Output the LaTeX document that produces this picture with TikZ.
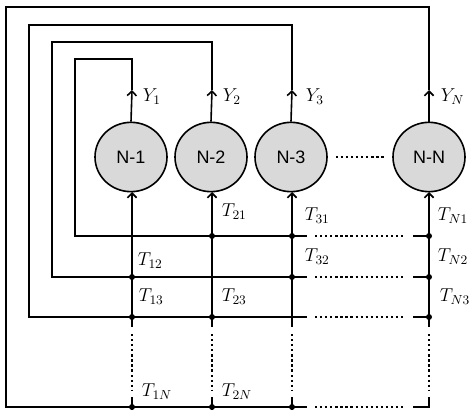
\RequirePackage{fix-cm}
\documentclass[tikz,border=0pt]{standalone}
\usepackage{fontspec}
\newfontfamily\arialfont{Liberation Sans}
\usetikzlibrary{arrows,shapes.geometric,positioning}
\usepgflibrary{arrows.meta}
\tikzset{
  neuron/.style={ellipse,draw,line width=1.2pt,fill=black!15,minimum width=54pt,minimum height=52pt,inner sep=0pt,font=\arialfont\fontsize{13.5}{15}\selectfont},
  junc/.style={circle,fill=black,inner sep=0pt,minimum size=4.5pt},
  dotline/.style={line width=1.7pt,dash pattern=on 1.7pt off 2.1pt},
  lab/.style={anchor=west,inner sep=0pt,font=\fontsize{14}{16}\selectfont},
  tip/.style={-{Straight Barb[length=3.5pt,width=7pt]}}
}
\begin{document}
\begin{tikzpicture}[x=0.75pt,y=-0.75pt,line width=1.2pt]
        \useasboundingbox (0,0) rectangle (474,413);
        %神经元
        \node[neuron] (n1) at (131,157) {N-1};
        \node[neuron] (n2) at (211,157) {N-2};
        \node[neuron] (n3) at (291,157) {N-3};
        \node[neuron] (nN) at (429,157) {N-N};
        \draw [dotline] ([xshift=6pt]n3.east) -- ([xshift=-6pt]nN.west);
        %输出 Y
        \coordinate (a1) at (132,90); \coordinate (a2) at (212,90);
        \coordinate (a3) at (292,90); \coordinate (aN) at (429,90);
        \draw [tip] (n1.north) -- (a1);
        \draw [tip] (n2.north) -- (a2);
        \draw [tip] (n3.north) -- (a3);
        \draw [tip] (nN.north) -- (aN);
        \node[lab] (y1) at (142,97) {$Y_1$};
        \node[lab] (y2) at (222,97) {$Y_2$};
        \node[lab] (y3) at (305,97) {$Y_3$};
        \node[lab] (yN) at (440,97) {$Y_N$};
        %反馈回路
        \draw (a1) |- (75,59) |- (307,236);
        \draw (a2) |- (52,42) |- (307,277);
        \draw (a3) |- (29,25) |- (307,317);
        \draw (aN) |- (6,7) |- (307,407);
        \draw [dotline] (315,236) -- (405,236);
        \draw [dotline] (315,277) -- (405,277);
        \draw [dotline] (315,317) -- (405,317);
        \draw [dotline] (315,407) -- (405,407);
        \draw (413,236) -- (429,236) (413,277) -- (429,277) (413,317) -- (429,317);
        \draw (413,407) -| (429,397);
        %输入 T
        \draw [tip] (132,327) -- (132,192);
        \draw [tip] (212,327) -- (212,192);
        \draw [tip] (292,327) -- (292,192);
        \draw [tip] (429,327) -- (429,192);
        \foreach \x in {132,212,292,429} {
            \draw [dotline] (\x,334) -- (\x,390);
        }
        \foreach \x in {132,212,292} {
            \draw (\x,397) -- (\x,410);
        }
        %节点
        \foreach \p in {(212,236),(292,236),(429,236),(132,277),(292,277),(429,277),
                        (132,317),(212,317),(429,317),(132,407),(212,407),(292,407)} {
            \node[junc] at \p {};
        }
        %标注
        \node[lab] (t21) at (221,212) {$T_{21}$};
        \node[lab] (t31) at (304,216) {$T_{31}$};
        \node[lab] (tN1) at (437,216) {$T_{N1}$};
        \node[lab] (t12) at (137,261) {$T_{12}$};
        \node[lab] (t32) at (304,257) {$T_{32}$};
        \node[lab] (tN2) at (437,257) {$T_{N2}$};
        \node[lab] (t13) at (138,297) {$T_{13}$};
        \node[lab] (t23) at (221,297) {$T_{23}$};
        \node[lab] (tN3) at (439,297) {$T_{N3}$};
        \node[lab] (t1N) at (141,392) {$T_{1N}$};
        \node[lab] (t2N) at (221,392) {$T_{2N}$};
    \end{tikzpicture}
\end{document}
